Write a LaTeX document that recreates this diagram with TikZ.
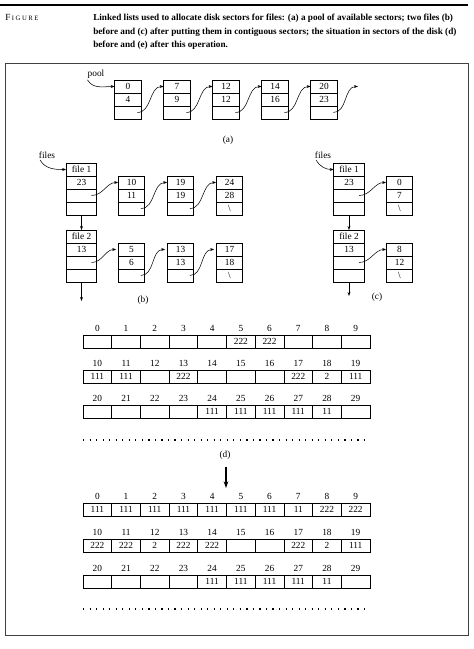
\documentclass[tikz,border=0pt]{standalone}
\usepackage{fontspec}
\setmainfont{Liberation Serif}
\usetikzlibrary{arrows.meta}
\newcommand\listbox[6]{%
  \node[cell, minimum width=20pt] (#1-1) at (#2,{#3+6.5}) {#4};
  \node[cell, minimum width=20pt] (#1-2) at (#2,{#3+19.5}) {#5};
  \node[cell, minimum width=20pt] (#1-3) at (#2,{#3+32.5}) {#6};}
\newcommand\filebox[5]{%
  \node[cell, minimum width=23pt] (#1-1) at (#2,{#3+6.5}) {#4};
  \node[cell, minimum width=23pt] (#1-2) at (#2,{#3+19.5}) {#5};
  \node[cell, minimum width=23pt] (#1-3) at (#2,{#3+32.5}) {};
  \node[cell, minimum width=23pt] (#1-4) at (#2,{#3+45.5}) {};}
\newcommand\diskrow[4]{%
  \foreach \v [count=\k from 0] in {#4} {
    \pgfmathtruncatemacro\idx{#3+\k}
    \node[dcell] (#1c\k) at ({83+28.7*(\k+0.5)},{#2+6.5}) {\v};
    \node[idx] (#1i\k) at ({83+28.7*(\k+0.5)},{#2-7}) {\idx};
  }}
\begin{document}
\begin{tikzpicture}[x=0.75pt,y=-0.75pt,
  every node/.style={font=\fontsize{7}{8}\selectfont},
  cell/.style={draw, line width=0.6pt, inner sep=0pt, outer sep=0pt, minimum height=9.75pt},
  dcell/.style={draw, line width=0.5pt, inner sep=0pt, outer sep=0pt, minimum width=21.5pt, minimum height=9.75pt},
  idx/.style={inner sep=0pt},
  ptr/.style={line width=0.4pt, -{Stealth[length=3pt,width=2.2pt]}},
  vdown/.style={line width=0.5pt, -{Stealth[length=3pt,width=2.2pt]}},
  dotline/.style={line width=0.9pt, dash pattern=on 0.9pt off 4pt},
  captext/.style={anchor=base west, inner sep=0pt, font=\fontsize{6.9}{8}\selectfont\bfseries},
]
\useasboundingbox (0,0) rectangle (474,649);
\fill[white] (0,0) rectangle (474,649);

% heading
\draw[line width=1.4pt] (0,5) -- (468,5);
\node[anchor=base west, inner sep=0pt] (figlabel) at (5,21) {F\kern1pt{\fontsize{5}{6}\selectfont I\kern1.2pt G\kern1.2pt U\kern1.2pt R\kern1.2pt E}};
\node[captext] (cap1) at (93,21) {Linked lists used to allocate disk sectors for files: (a) a pool of available sectors; two files (b)};
\node[captext] (cap2) at (93,35) {before and (c) after putting them in contiguous sectors; the situation in sectors of the disk (d)};
\node[captext] (cap3) at (93,48) {before and (e) after this operation.};
\draw[line width=0.6pt, black!75] (5,63) rectangle (468,635);

% (a)
\node[inner sep=1pt] (pool) at (96,74) {pool};
\listbox{a1}{128}{80}{0}{4}{}
\listbox{a2}{177}{80}{7}{9}{}
\listbox{a3}{226}{80}{12}{12}{}
\listbox{a4}{275}{80}{14}{16}{}
\listbox{a5}{324}{80}{20}{23}{}
\foreach \i/\j in {1/2,2/3,3/4,4/5}
  \draw[ptr] ([xshift=-3pt]a\i-3.east) to[out=0,in=180] (a\j-1.west);
\coordinate (aend) at (358,86.5);
\draw[ptr] ([xshift=-3pt]a5-3.east) to[out=0,in=180] (aend);
\draw[ptr] ([xshift=1pt]pool.south west) to[out=-60,in=180] (a1-1.west);
\node (alab) at (228,140) {(a)};

% (b)
\node[inner sep=1pt] (filesb) at (47,155) {files};
\filebox{bf1}{81.5}{163}{file 1}{23}
\filebox{bf2}{81.5}{230}{file 2}{13}
\listbox{b1}{131.5}{176}{10}{11}{}
\listbox{b2}{180.5}{176}{19}{19}{}
\listbox{b3}{229.5}{176}{24}{28}{\textbackslash}
\listbox{b4}{131.5}{243}{5}{6}{}
\listbox{b5}{180.5}{243}{13}{13}{}
\listbox{b6}{229.5}{243}{17}{18}{\textbackslash}
\draw[ptr] ([xshift=-4pt]bf1-3.east) to[out=0,in=180] (b1-1.west);
\draw[ptr] ([xshift=-3pt]b1-3.east) to[out=0,in=180] (b2-1.west);
\draw[ptr] ([xshift=-3pt]b2-3.east) to[out=0,in=180] (b3-1.west);
\draw[ptr] ([xshift=-4pt]bf2-3.east) to[out=0,in=180] ([xshift=-1.5pt]b4-1.west);
\draw[ptr] ([xshift=-3pt]b4-3.east) to[out=0,in=180] ([xshift=-1.5pt]b5-1.west);
\draw[ptr] ([xshift=-3pt]b5-3.east) to[out=0,in=180] ([xshift=-1.5pt]b6-1.west);
\draw[vdown] (bf1-4.south) -- (bf2-1.north);
\coordinate (bend) at (81.5,301);
\draw[vdown] (bf2-4.south) -- (bend);
\draw[ptr] ([xshift=2pt]filesb.south west) to[out=-60,in=180] (bf1-1.west);
\node (blab) at (143,300) {(b)};

% (c)
\node[inner sep=1pt] (filesc) at (323,155) {files};
\filebox{cf1}{349}{163}{file 1}{23}
\filebox{cf2}{349}{230}{file 2}{13}
\listbox{c1}{399.5}{176}{0}{7}{\textbackslash}
\listbox{c2}{399.5}{243}{8}{12}{\textbackslash}
\draw[ptr] ([xshift=-4pt]cf1-3.east) to[out=0,in=180] (c1-1.west);
\draw[ptr] ([xshift=-4pt]cf2-3.east) to[out=0,in=180] (c2-1.west);
\draw[vdown] (cf1-4.south) -- (cf2-1.north);
\coordinate (cend) at (349,296);
\draw[vdown] (cf2-4.south) -- (cend);
\draw[ptr] ([xshift=2pt]filesc.south west) to[out=-60,in=180] (cf1-1.west);
\node (clab) at (377,297) {(c)};

% (d)
\diskrow{d1}{335}{0}{{},{},{},{},{},222,222,{},{},{}}
\diskrow{d2}{370}{10}{111,111,{},222,{},{},{},222,2\hspace{7pt},111}
\diskrow{d3}{405}{20}{{},{},{},{},111,111,111,111,11,{}}
\draw[dotline] (83,440) -- (368,440);
\node (dlab) at (225,455) {(d)};
\coordinate (arrbot) at (226,488);
\draw[line width=1.2pt, -{Stealth[length=5pt,width=3.5pt]}] ([yshift=-2pt]dlab.south -| arrbot) -- (arrbot);

% (e)
\diskrow{e1}{503}{0}{111,111,111,111,111,111,111,11,222,222}
\diskrow{e2}{539}{10}{222,222,2\hspace{7pt},222,222,{},{},222,2\hspace{7pt},111}
\diskrow{e3}{575}{20}{{},{},{},{},111,111,111,111,11,{}}
\draw[dotline] (83,609) -- (368,609);
\end{tikzpicture}
\end{document}
